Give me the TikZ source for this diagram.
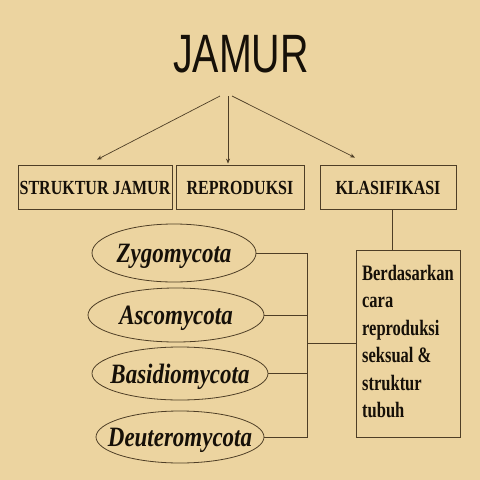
\documentclass[tikz,border=0pt]{standalone}
\usepackage{fontspec}
\setmainfont{Liberation Serif}
\newfontfamily\jamurfont{Liberation Sans}
\usetikzlibrary{shapes.geometric,arrows.meta}
\definecolor{paper}{RGB}{236,212,160}
\definecolor{linec}{RGB}{78,62,38}
\definecolor{inkc}{RGB}{22,16,8}
\tikzset{
  boxnode/.style={draw=linec, line width=0.8pt, inner sep=0pt, minimum height=44pt,
    text height=14pt, text depth=0pt, text=inkc,
    font=\fontsize{20}{22}\selectfont\bfseries},
  oval/.style={ellipse, draw=linec, line width=0.8pt, inner sep=0pt,
    text height=19pt, text depth=0pt, text=inkc,
    font=\fontsize{28}{30}\selectfont\bfseries\itshape},
  conn/.style={draw=linec, line width=0.8pt},
  arr/.style={draw=linec, line width=0.7pt, -{Stealth[length=5pt,width=4pt]}}
}
\begin{document}
\begin{tikzpicture}[x=1pt,y=-1pt]
\fill[paper] (0,0) rectangle (480,480);
\useasboundingbox (0,0) rectangle (480,480);

% title
\node[anchor=base, inner sep=0pt, text=inkc, font=\jamurfont\fontsize{54}{56}\selectfont] (jm) at (241,72) {\scalebox{0.73}[1]{JAMUR}};
\coordinate (j1) at (220,96);
\coordinate (j2) at (228,96);
\coordinate (j3) at (232,96);

% level boxes
\node[boxnode, minimum width=154pt] (st) at (95,187) {\scalebox{0.8}[1]{STRUKTUR JAMUR}};
\node[boxnode, minimum width=128pt] (rp) at (240,187) {\scalebox{0.8}[1]{REPRODUKSI}};
\node[boxnode, minimum width=136pt] (kl) at (388,187) {\scalebox{0.8}[1]{KLASIFIKASI}};

\draw[arr] (j1) -- ([xshift=2pt,yshift=5pt]st.north);
\draw[arr] (j2) -- ([xshift=-12pt,yshift=1pt]rp.north);
\draw[arr] (j3) -- ([xshift=-33pt,yshift=7pt]kl.north);

% right box
\node[draw=linec, line width=0.8pt, inner xsep=5pt, inner ysep=0pt, minimum width=104pt, minimum height=187pt, text=inkc,
  font=\fontsize{22}{27.4}\selectfont\bfseries] (rb) at (408,343.5)
  {\scalebox{0.75}[1]{\begin{tabular}{@{}l@{}}Berdasarkan\\cara\\reproduksi\\seksual \&\\struktur\\tubuh\end{tabular}}};

\coordinate (kx) at (392,0);
\draw[conn] (kl.south -| kx) -- (kx |- rb.north);

% ellipses
\node[oval, minimum width=164pt, minimum height=58pt] (zy) at (174,253) {\makebox[20pt]{\scalebox{0.82}[1]{Zygomycota}}};
\node[oval, minimum width=176pt, minimum height=54pt] (as) at (176,315) {\makebox[20pt]{\scalebox{0.82}[1]{Ascomycota}}};
\node[oval, minimum width=176pt, minimum height=53pt] (ba) at (180,373.5) {\makebox[20pt]{\scalebox{0.82}[1]{Basidiomycota}}};
\node[oval, minimum width=168pt, minimum height=52pt] (de) at (180,437) {\makebox[20pt]{\scalebox{0.82}[1]{Deuteromycota}}};

\coordinate (bus) at (307,0);
\draw[conn] (zy.east) -- (zy.east -| bus) -- (de.east -| bus) -- (de.east);
\draw[conn] (as.east) -- (as.east -| bus);
\draw[conn] (ba.east) -- (ba.east -| bus);
\draw[conn] (rb.west) -- (rb.west -| bus);
\end{tikzpicture}
\end{document}
